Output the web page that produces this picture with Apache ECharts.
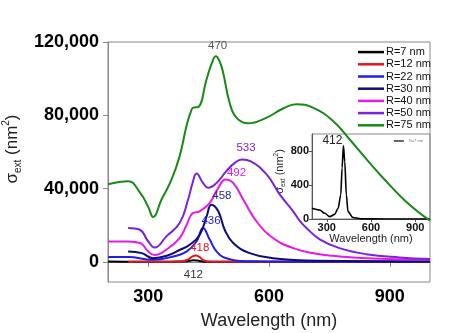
<!DOCTYPE html>
<html><head><meta charset="utf-8">
<script src="https://cdn.jsdelivr.net/npm/echarts@6/dist/echarts.min.js"></script>
<style>html,body{margin:0;padding:0;background:#fff}#c{width:474px;height:333px}</style>
</head><body><div id="c"></div>
<script>
// ---- data ----
const names = ['R=7 nm','R=12 nm','R=22 nm','R=30 nm','R=40 nm','R=50 nm','R=75 nm'];
const wl7  = [200,252,286,320,354,377,395,404,413,422,433,444,478,540,700,1000];
const v7   = [126,106,67,28,55,126,283,599,860,678,283,87,17,2,0,0];
const wl12 = [250,350,385,398,408,418,427,436,447,470,600,1000];
const v12  = [0,60,300,1200,2700,3450,2700,1100,250,60,0,0];
const wl22 = [200,250,312,362,395,420,436,453,470,494,552,700,1000];
const v22  = [2600,2600,1100,2900,5600,11100,18500,12000,5600,2000,300,50,0];
const wl30 = [250,284,312,346,379,403,428,445,457,474,490,511,552,610,718,1000];
const v30  = [5600,4750,2000,3300,6600,9300,14800,24800,31200,27600,17500,10300,4750,2000,550,150];
const wl40 = [200,250,280,300,316,345,378,395,410,428,453,474,492,511,536,569,610,660,718,758,841,1000];
const v40  = [11100,11100,10250,5600,3800,6600,13000,20000,26500,27600,32200,40400,45000,43100,34000,22100,13000,7500,4400,3300,2000,1260];
const wl50 = [250,279,300,316,345,378,399,410,420,436,449,470,494,515,533,555,594,627,660,676,693,726,775,841,924,1000];
const v50  = [18500,17500,11100,7800,13900,21200,34000,43000,48200,43100,40400,43100,49500,54000,55800,54800,47700,36700,27600,22500,18500,12300,7500,4200,2400,1600];
const wl75 = [200,250,280,300,312,333,358,378,395,405,412,424,445,458,468,478,486,502,519,548,594,635,668,709,759,800,850,883,940,1000];
const v75  = [42400,44000,37600,30000,24500,34000,45000,57700,74100,81500,84200,84500,99700,108500,112200,109000,103400,87000,78700,75600,78700,83700,86000,84200,76900,66900,54000,45900,33000,22500];
const peakWl  = [412,418,436,458,492,533,470];
const yTicks = [0,40000,80000,120000];
const xTicks = [300,600,900];
const insetYTicks = [0,400,800];

const colors = ['#000000','#e8141b','#1f1fe6','#0c0c7a','#e619e6','#7a22e0','#178a17'];
const FF = 'Liberation Sans, Arial, sans-serif';
const pairs = (w,v)=>w.map((x,i)=>[x,v[i]]);

const sets = [[wl7,v7],[wl12,v12],[wl22,v22],[wl30,v30],[wl40,v40],[wl50,v50],[wl75,v75]];
const lblOff = [[0,13],[4,-8],[8,-7],[10,-9],[11,-7],[4,-12],[1,-10]];
const lblCol = ['#333','#e8141b','#1f1fe6','#2a2a80','#e619e6','#7a22e0','#555'];

const chart = echarts.init(document.getElementById('c'), null, {renderer:'canvas'});
const series = [];
series.push({
  name: names[0], type:'line', xAxisIndex:1, yAxisIndex:1, data:pairs(wl7,v7),
  smooth:0.3, smoothMonotone:'x', showSymbol:false, symbol:'none',
  lineStyle:{color:'#000',width:1.6}, itemStyle:{color:'#000'},
  markPoint:{symbol:'circle', symbolSize:1, itemStyle:{color:'rgba(0,0,0,0)'},
    label:{show:true, formatter:'{c}', color:'#222', fontSize:12, fontFamily:FF, offset:[-11,-5]},
    data:[{coord:[413, 860], value:412}]}
});
sets.forEach((s,i)=>{
  series.push({
    name:names[i], type:'line', xAxisIndex:0, yAxisIndex:0, data:pairs(s[0],s[1]),
    smooth:0.45, showSymbol:false, symbol:'none',
    lineStyle:{color:colors[i], width:2}, itemStyle:{color:colors[i]},
    markPoint:{symbol:'circle', symbolSize:1, itemStyle:{color:'rgba(0,0,0,0)'},
      label:{show:true, formatter:'{c}', color:lblCol[i], fontSize:11.5, fontFamily:FF, offset:lblOff[i]},
      data:[{coord:[peakWl[i], i===0?0:Math.max(...s[1])], value:peakWl[i]}]}
  });
});

chart.setOption({
  animation:false,
  backgroundColor:'#fff',
  textStyle:{fontFamily:FF},
  grid:[
    {left:108, top:42, right:44, bottom:51, show:true, borderColor:'#888', borderWidth:1, backgroundColor:'transparent', outerBoundsMode:'none', containLabel:false},
    {left:312, top:134, right:44, bottom:114, show:true, borderColor:'#888', borderWidth:1, backgroundColor:'transparent', outerBoundsMode:'none', containLabel:false}
  ],
  legend:[
    {data:names, left:353, top:41, orient:'vertical', icon:'rect', itemWidth:26, itemHeight:2.5, itemGap:0,
     textStyle:{fontSize:11, lineHeight:12.2, color:'#111', fontFamily:FF, padding:[0,0,0,-3]}},
    {data:[names[0]], right:46, top:134, orient:'vertical', icon:'rect', itemWidth:10, itemHeight:1.2,
     textStyle:{fontSize:4, color:'#777', fontFamily:FF}}
  ],
  xAxis:[
    {type:'value', gridIndex:0, min:200, max:1000,
     axisLine:{show:true, lineStyle:{color:'#888', width:1}},
     axisTick:{show:true, customValues:xTicks, length:5, lineStyle:{color:'#888'}},
     axisLabel:{customValues:xTicks, fontSize:18, fontWeight:'bold', color:'#000', margin:6, fontFamily:FF},
     splitLine:{show:false},
     name:'Wavelength (nm)', nameLocation:'middle', nameGap:30,
     nameTextStyle:{fontSize:18, color:'#222', fontFamily:FF}},
    {type:'value', gridIndex:1, min:200, max:1000,
     axisLine:{show:true, lineStyle:{color:'#555', width:1}},
     axisTick:{show:true, customValues:xTicks, length:3, lineStyle:{color:'#555'}},
     axisLabel:{customValues:xTicks, fontSize:11, fontWeight:'bold', color:'#111', margin:3, fontFamily:FF},
     splitLine:{show:false},
     name:'Wavelength (nm)', nameLocation:'middle', nameGap:13,
     nameTextStyle:{fontSize:11, color:'#222', fontFamily:FF}}
  ],
  yAxis:[
    {type:'value', gridIndex:0, min:-11000, max:120000,
     axisLine:{show:true, lineStyle:{color:'#888', width:1}},
     axisTick:{show:true, customValues:yTicks, length:5, lineStyle:{color:'#888'}},
     axisLabel:{customValues:yTicks, fontSize:18, fontWeight:'bold', color:'#000', margin:9, fontFamily:FF,
       formatter:v=>v.toLocaleString('en-US')},
     splitLine:{show:false},
     name:'{a|σ}{b|ext}{a| (nm}{c|2}{a|)}', nameLocation:'middle', nameGap:84, nameRotate:90,
     nameTextStyle:{color:'#222', fontFamily:FF, padding:[0,0,0,26],
       rich:{a:{fontSize:17, color:'#222', fontFamily:FF, lineHeight:22},
             b:{fontSize:10, color:'#222', fontFamily:FF, verticalAlign:'bottom', lineHeight:22, padding:[8,0,0,0]},
             c:{fontSize:10, color:'#222', fontFamily:FF, verticalAlign:'top', lineHeight:22, padding:[0,0,8,0]}}}},
    {type:'value', gridIndex:1, min:0, max:1000, interval:400,
     axisLine:{show:true, lineStyle:{color:'#555', width:1}},
     axisTick:{show:true, customValues:insetYTicks, length:3, lineStyle:{color:'#555'}},
     axisLabel:{customValues:insetYTicks, fontSize:11, fontWeight:'bold', color:'#111', margin:3, fontFamily:FF},
     splitLine:{show:false},
     name:'{a|σ}{b|ext}{a| (nm}{c|2}{a|)}', nameLocation:'middle', nameGap:22, nameRotate:90,
     nameTextStyle:{color:'#222', fontFamily:FF, padding:[0,0,0,10],
       rich:{a:{fontSize:11, color:'#222', fontFamily:FF, lineHeight:14},
             b:{fontSize:6.5, color:'#222', fontFamily:FF, verticalAlign:'bottom', lineHeight:14, padding:[5,0,0,0]},
             c:{fontSize:6.5, color:'#222', fontFamily:FF, verticalAlign:'top', lineHeight:14, padding:[0,0,5,0]}}}}
  ],
  series:series
});
</script></body></html>
